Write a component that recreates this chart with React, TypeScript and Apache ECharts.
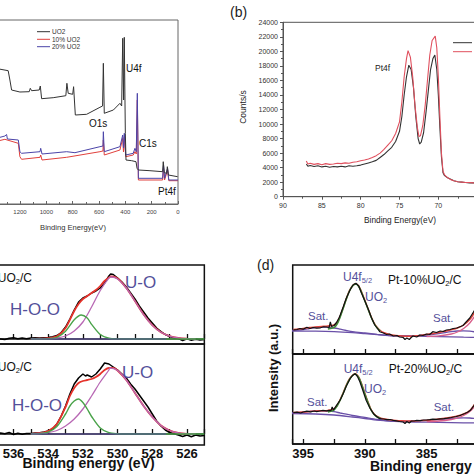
import React, { useEffect, useRef } from "react";
import * as echarts from "echarts";

type P = [number, number][];
const FF = "'Liberation Sans', Arial, Helvetica, sans-serif";

// ---------- (a) XPS survey: [binding energy eV, intensity a.u.] ----------
const surveyUO2: P = [[1400,136],[1290,133.3],[1277,124],[1264,114],[1201,112],[1130,112.3],[1122,115.7],[1112,113.3],[1054,114],[1046,118],[1036,105.3],[948,106.3],[852,108.3],[844,120.7],[834,110.7],[800,109.7],[793,117.3],[780,89],[694,89.7],[593,96.7],[573,98],[567,140.7],[560,90.7],[491,94],[441,100.7],[428,98],[420,165.7],[413,104],[408,166.7],[400,70.7],[395,44],[352,43.3],[319,42.3],[311,35.7],[301,34],[213,33.3],[117,32.3],[112,42.3],[104,31.3],[86,30.7],[81,37.3],[73,29],[3,27.3]];
const survey10: P = [[1400,62],[1315,64.7],[1213,60.7],[1201,47.3],[1188,44.7],[1048,46.7],[1043,49],[1033,44],[846,46.7],[593,52.3],[570,53],[567,64],[560,49],[441,54],[420,65.7],[414,52],[408,67.3],[397,47.3],[340,49],[327,52.3],[317,50],[309,104],[301,24],[117,24],[110,35.7],[102,24],[79,34],[70,23.3],[0,23.3]];
const survey20: P = [[1400,65],[1315,68],[1302,69.5],[1296,65],[1213,64],[1201,52.3],[1188,50.7],[1048,52.3],[1043,55.7],[1033,50],[846,52.3],[783,51.3],[593,57.3],[570,58],[567,72.3],[560,52.3],[441,57.3],[420,69],[414,56],[408,70.7],[397,49],[340,50.7],[327,55.7],[317,52.3],[309,110.7],[301,25.7],[117,25.7],[110,39],[102,25.7],[79,35.7],[70,24],[0,24]];
const surveyLegend = ["UO2", "10% UO2", "20% UO2"];

// ---------- (b) Pt4f: [eV, counts/s] ----------
const pt4fBlack: P = [[87,4500],[86.8,4200],[86.5,4300],[86,4150],[85.5,4250],[85,4100],[84.5,4200],[84,4050],[83.5,4150],[83,4100],[82.5,4200],[82,4100],[81.5,4250],[81,4200],[80.5,4250],[80,4350],[79.5,4500],[79,4650],[78.5,4800],[78,5000],[77.5,5400],[77,5800],[76.5,6300],[76,6800],[75.5,7600],[75,9000],[74.7,11000],[74.4,14000],[74.1,16500],[73.8,18100],[73.5,17500],[73.2,15000],[72.9,11000],[72.6,8000],[72.4,7250],[72.2,7500],[71.9,8800],[71.6,11500],[71.3,14500],[71,17500],[70.7,19000],[70.45,19500],[70.2,17500],[70,14000],[69.8,9500],[69.6,5500],[69.4,3300],[69.2,2900],[68.8,2600],[68.4,2400],[68,2200],[67.5,2050],[67,2000],[66.5,1950],[66,1900],[65.5,1900],[65,1900]];
const pt4fRed: P = [[87,4900],[86.8,4500],[86.5,4600],[86,4450],[85.5,4550],[85,4400],[84.5,4550],[84,4450],[83.5,4500],[83,4600],[82.5,4550],[82,4650],[81.5,4600],[81,4750],[80.5,4800],[80,4950],[79.5,5050],[79,5200],[78.5,5400],[78,5650],[77.5,6000],[77,6500],[76.5,7100],[76,7700],[75.5,8700],[75,10300],[74.7,13000],[74.4,16500],[74.1,19000],[73.9,20100],[73.6,19200],[73.3,16500],[73,12500],[72.7,9500],[72.5,8300],[72.3,8400],[72,9800],[71.7,12500],[71.4,16000],[71.1,19500],[70.8,21500],[70.4,22100],[70.2,20500],[70,16500],[69.8,11000],[69.6,6000],[69.4,3500],[69.2,3000],[68.8,2600],[68.4,2350],[68,2200],[67.5,2050],[67,2000],[66.5,1950],[66,1950],[65.5,1900],[65,1900]];

// ---------- (c) O1s, intensity above baseline ----------
const o1sTopRaw: P = [[537,0.5],[536.75,0],[536.5,-0.5],[536.25,0.8],[536,1.2],[535.75,0.2],[535.5,1],[535.25,0.3],[535,1],[534.75,1.2],[534.5,1],[534.25,1.3],[534,1.5],[533.75,2.2],[533.5,3.5],[533.25,6.5],[533,12],[532.75,20],[532.5,29],[532.25,37],[532,41],[531.75,43],[531.5,46],[531.25,48],[531,51],[530.75,56],[530.5,63],[530.4,65],[530.25,64.5],[530,61],[529.75,57],[529.5,52],[529.25,46],[529,40],[528.75,33],[528.5,27],[528.25,21],[528,16],[527.75,11],[527.5,7.5],[527.25,4.5],[527,2.5],[526.75,1.2],[526.5,0.5],[526.25,-1.5],[526,0.2],[525.75,-1.2],[525.5,-0.3],[525.25,-1],[525,-0.5]];
const o1sTopFit: P = [[535,0.2],[534.5,0.4],[534,0.8],[533.5,2.6],[533,11],[532.5,28],[532.25,35],[532,40],[531.75,43],[531.5,46],[531.25,49],[531,53],[530.75,58],[530.5,61.5],[530.35,62.5],[530,60.5],[529.5,51],[529,38],[528.5,24.5],[528,13.8],[527.5,6.8],[527,3],[526.5,1.1],[526,0.3]];
const o1sTopUO: P = [[535,0],[534,0.3],[533.5,1],[533,3],[532.5,8],[532,17],[531.5,32],[531,48.5],[530.5,60.8],[530.35,62],[530,60],[529.5,51],[529,38],[528.5,24.3],[528,13.6],[527.5,6.7],[527,2.9],[526.5,1.1],[526,0.3],[525.5,0]];
const o1sTopHOO: P = [[535,0],[534.5,0],[534,0.2],[533.5,1.6],[533,7.8],[532.5,19.2],[532.1,24],[531.75,21],[531.5,14.6],[531,4.5],[530.5,0.7],[530,0.1],[529,0],[525,0]];
const o1sTopBase: P = [[535,0],[527.2,0]];

const o1sBotRaw: P = [[537,-0.5],[536.75,1],[536.5,0.2],[536.25,1.5],[536,-0.5],[535.75,0.8],[535.5,-0.3],[535.25,0.6],[535,0.4],[534.75,1],[534.5,1.2],[534.25,2],[534,3],[533.75,5],[533.5,10],[533.25,18],[533,28],[532.75,40],[532.5,50],[532.25,56],[532,60],[531.85,58],[531.75,59],[531.5,57],[531.25,60],[531,65],[530.75,71],[530.5,70],[530.25,67],[530,64],[529.75,60],[529.5,56],[529.25,50],[529,45],[528.75,39],[528.5,33],[528.25,27],[528,20],[527.75,13],[527.5,8],[527.25,4],[527,1.5],[526.75,0.2],[526.5,-1],[526.25,-2.5],[526,-1],[525.75,-2.8],[525.5,-1],[525.25,-2],[525,-1.5]];
const o1sBotFit: P = [[535,0.2],[534.5,0.8],[534,3],[533.5,10],[533,27],[532.75,38],[532.5,46],[532.25,51],[532,53],[531.75,54],[531.5,55],[531.25,57],[531,60],[530.75,64],[530.5,66],[530.25,66],[530,63.5],[529.5,54],[529,41],[528.5,28],[528,17],[527.5,8.5],[527,3.5],[526.5,1],[526,0.2]];
const o1sBotUO: P = [[535,0],[534.5,0.5],[534,1.5],[533.5,3.5],[533,8],[532.5,15],[532,25],[531.5,38],[531,52],[530.5,64],[530.45,66],[530,63.5],[529.5,54],[529,41],[528.5,28],[528,17],[527.5,8.5],[527,3.5],[526.5,1],[526,0.2],[525.5,0]];
const o1sBotHOO: P = [[535,0],[534.5,0.4],[534,1.8],[533.5,7.5],[533,20],[532.75,28],[532.5,33],[532.25,35],[532,31.5],[531.75,25],[531.5,17.5],[531,6],[530.5,1.3],[530,0.2],[529.5,0],[525,0]];
const o1sBotBase: P = [[535,0],[527.2,0]];

// ---------- (d) U4f ----------
const u4fTopRaw: P = [[395.8,24],[395.5,24.5],[395.27,25.5],[395,24.8],[394.7,26.7],[394.45,25.5],[394.2,26.5],[393.9,25.8],[393.6,26.2],[393.35,27.2],[393.1,27],[392.9,26.5],[392.8,32],[392.7,27.5],[392.5,28.5],[392.3,31.5],[392.1,36],[392,39],[391.76,47],[391.5,56],[391.2,64],[390.97,69],[390.73,70.7],[390.5,68],[390.27,60.7],[390,53],[389.7,44],[389.46,36],[389.2,29],[388.95,25],[388.8,22.3],[388.5,21],[388.25,19.5],[388,20],[387.7,18],[387.4,18.5],[387.2,17],[386.9,16.5],[386.75,14.5],[386.6,16],[386.4,14.5],[386.25,16.5],[386.1,18],[385.8,17],[385.55,19],[385.3,18.5],[385,20],[384.75,19.5],[384.5,22.3],[384.2,21.5],[383.9,23],[383.65,22.5],[383.4,24],[383.1,24.5],[382.85,25.5],[382.55,26],[382.3,27.3],[382.05,28.5],[381.8,32],[381.5,36],[381.2,42],[380.9,48]];
const u4fTopFit: P = [[395.8,24.5],[395,25.5],[394.5,26.5],[394,27],[393.5,27.5],[393,28],[392.5,29],[392.25,31.5],[392,38],[391.75,46.5],[391.5,55.5],[391.25,63.5],[391,68.3],[390.75,70.3],[390.5,68],[390.25,61.5],[390,53.5],[389.75,45.5],[389.5,37.5],[389.25,31],[389,26.5],[388.75,23.5],[388.5,21.5],[388,19.5],[387.5,18.5],[387,18],[386.5,17.8],[386,18],[385.5,18.6],[385,19.5],[384.5,20.5],[384,21.5],[383.5,22.8],[383,24.2],[382.5,26],[382,29],[381.5,34.5],[381.2,40],[380.9,48],[380.6,58]];
const u4fTopUO2: P = [[393,25],[392.5,26.5],[392.25,30],[392,37],[391.75,46],[391.5,55],[391.25,63],[391,68],[390.75,70],[390.5,67.5],[390.25,61],[390,53],[389.75,45],[389.5,37],[389.25,30.5],[389,26],[388.75,23]];
const u4fTopBg: P = [[396,23],[394,22.8],[392.5,22.3],[391,21.3],[390,20.3],[389,19.3],[388,18.5],[386,17.8],[384,17.3],[382,16.8],[380.5,16.5]];
const u4fTopSat1: P = [[396,23.5],[395,24.5],[394.5,25.5],[394,26.5],[393.5,27],[393,26.8],[392.5,26],[392,24.8],[391.5,23.5],[391,22.3],[390,21],[389,19.7],[388,18.5]];
const u4fTopSat2: P = [[388,18.3],[387,18],[386,18.2],[385,19],[384,20.5],[383,22.3],[382.5,23],[382,23.2],[381.5,22.8],[381,22],[380.5,21]];
const u4fTopU72: P = [[385,17.5],[384,18.2],[383,20],[382.5,22],[382,25.5],[381.5,31],[381,40],[380.5,54],[380.2,62]];

const u4fBotRaw: P = [[395.8,31.3],[395.5,31.8],[395.2,31],[395,32],[394.7,32.8],[394.4,32.2],[394.1,33],[393.9,32.4],[393.65,33],[393.4,33.6],[393.1,33.2],[392.9,33.7],[392.75,33.4],[392.65,37],[392.55,34],[392.3,38.7],[392,44],[391.76,50.3],[391.5,58],[391.2,65.3],[391,68.5],[390.8,70.3],[390.6,67.5],[390.4,62],[390.15,53],[389.9,43.7],[389.6,36],[389.3,30.3],[389.05,27.5],[388.8,25.3],[388.5,25],[388.2,24.3],[387.95,24.5],[387.7,23.7],[387.45,23.2],[387.2,22.5],[386.9,22],[386.75,20.5],[386.6,22.5],[386.4,21],[386.25,22.8],[386,23],[385.8,23.7],[385.5,23.3],[385.25,24],[385,24],[384.75,24.3],[384.5,24.8],[384.2,24.6],[383.9,25.2],[383.6,25.3],[383.3,25.8],[383,26.5],[382.6,27.5],[382.25,28.7],[381.9,30.5],[381.65,32],[381.45,33.7],[381.15,38.7],[380.9,44]];
const u4fBotFit: P = [[395.8,31.5],[395,32],[394.5,32.5],[394,33],[393.5,33.3],[393,33.6],[392.5,35],[392.25,38.5],[392,44.5],[391.75,51.5],[391.5,59],[391.25,65],[391,68.8],[390.8,70.2],[390.5,66.8],[390.25,59.5],[390,50.5],[389.75,42],[389.5,34.5],[389.25,30],[389,27.5],[388.75,26],[388.5,25.2],[388,24.3],[387.5,23.6],[387,23.2],[386.5,23],[386,23.1],[385.5,23.4],[385,23.8],[384.5,24.3],[384,25],[383.5,25.8],[383,26.8],[382.5,28],[382,30],[381.5,33.5],[381.2,38],[380.9,45],[380.6,54]];
const u4fBotUO2: P = [[393,32],[392.5,34],[392.25,38],[392,44],[391.75,51],[391.5,58.5],[391.25,64.5],[391,68.5],[390.8,70],[390.5,66.5],[390.25,59],[390,50],[389.75,41.5],[389.5,34],[389.25,29.5],[389,27],[388.75,26]];
const u4fBotBg: P = [[396,30.5],[394,30],[392.5,29],[391,27],[390,25.5],[389,23.8],[388,22.8],[386,22],[384,21.6],[382,21.2],[380.5,21]];
const u4fBotSat1: P = [[396,31],[395,31.8],[394.5,32.5],[394,33],[393.5,33.2],[393,33],[392.5,32.3],[392,31],[391.5,29.8],[391,28.5],[390,26.5],[389,24.5],[388,23.2]];
const u4fBotSat2: P = [[388,22.8],[387,22.7],[386,23],[385,23.6],[384,24.5],[383,25.5],[382.5,26],[382,26.2],[381.5,26],[381,25.3],[380.5,24.5]];
const u4fBotU72: P = [[385,22.5],[384,23],[383,24.5],[382.5,26],[382,28.5],[381.5,32.5],[381,39.5],[380.6,50],[380.3,58]];

const SLATE = "#54509a";

let ctx: CanvasRenderingContext2D | null = null;
function tw(t: string, size: number, weight = "normal") {
  if (!ctx) ctx = document.createElement("canvas").getContext("2d");
  if (!ctx) return t.length * size * 0.55;
  ctx.font = `${weight} ${size}px ${FF}`;
  return ctx.measureText(t).width;
}

function txt(text: string, x: number, y: number, size: number, fill: string, opts: any = {}) {
  const align = opts.align || "left";
  return {
    type: "text",
    x,
    y,
    rotation: opts.rotation || 0,
    z: 100,
    style: {
      text,
      fontSize: size,
      fontFamily: FF,
      fontWeight: opts.weight || "normal",
      fill,
      textAlign: align,
      align,
      textVerticalAlign: "middle",
      verticalAlign: "middle",
    },
  };
}

function subText(parts: [string, boolean][], x: number, y: number, size: number, fill: string, align: "left" | "right" = "left") {
  const subSize = size * 0.62;
  const widths = parts.map(([t, s]) => tw(t, s ? subSize : size));
  const total = widths.reduce((a, b) => a + b, 0);
  let cx = align === "left" ? x : x - total;
  return parts.map(([t, s], i) => {
    const el = txt(t, cx, s ? y + size * 0.32 : y, s ? subSize : size, fill);
    cx += widths[i];
    return el;
  });
}

function line(data: P, idx: number, color: string, width: number, smooth: boolean | number = false, z = 2) {
  return {
    type: "line",
    data,
    xAxisIndex: idx,
    yAxisIndex: idx,
    symbol: "none",
    showSymbol: false,
    smooth,
    z,
    silent: true,
    lineStyle: { color, width },
    itemStyle: { color },
  };
}

function buildOption() {
  const black = "#111";
  const boxGrid = (left: number, top: number, width: number, height: number, color: string, bw: number) => ({
    left, top, width, height, show: true, borderColor: color, borderWidth: bw, backgroundColor: "transparent",
    containLabel: false, outerBoundsMode: "none",
  });
  const cdX = (idx: number, min: number, max: number, interval: number, labels: boolean, every: number) => ({
    gridIndex: idx,
    type: "value",
    inverse: true,
    min,
    max,
    interval,
    axisLine: { show: true, lineStyle: { color: black, width: 1.5 } },
    axisTick: { show: true, inside: true, length: 5, lineStyle: { color: black, width: 1.3 } },
    axisLabel: {
      show: labels,
      fontSize: 13,
      fontWeight: "bold",
      color: "#111",
      fontFamily: FF,
      margin: idx === 3 ? 2 : 3,
      hideOverlap: false,
      formatter: (v: number) => (Math.abs(v / every - Math.round(v / every)) < 1e-6 ? String(v) : ""),
    },
    splitLine: { show: false },
  });
  const hidY = (idx: number, min: number, max: number) => ({ gridIndex: idx, type: "value", min, max, show: false, splitLine: { show: false } });

  const graphic: any[] = [];
  // (a) legend
  const legColors = ["#333", "#e0403c", "#4b44a8"];
  const legY = [31.7, 39.3, 46.7];
  surveyLegend.forEach((name, i) => {
    graphic.push({ type: "line", shape: { x1: 37, y1: legY[i], x2: 50, y2: legY[i] }, style: { stroke: legColors[i], lineWidth: 1 }, z: 100 });
    graphic.push(txt(name, 52, legY[i], 6.5, "#333"));
  });
  graphic.push(txt("U4f", 126, 68.3, 10, "#111"));
  graphic.push(txt("O1s", 89, 123.3, 10, "#111"));
  graphic.push(txt("C1s", 139, 143.3, 10, "#111"));
  graphic.push(txt("Pt4f", 158, 191.7, 10, "#111"));
  graphic.push(txt("Binding Energy(eV)", 73, 227.7, 7.6, "#333", { align: "center" }));

  // (b)
  graphic.push(txt("(b)", 230, 12, 14, "#222"));
  graphic.push(txt("Pt4f", 375, 68.3, 8.5, "#222"));
  graphic.push(txt("Counts/s", 243, 107, 8.5, "#222", { align: "center", rotation: Math.PI / 2 }));
  graphic.push(txt("Binding Energy(eV)", 400, 220, 8.3, "#222", { align: "center" }));
  graphic.push({ type: "line", shape: { x1: 453, y1: 42.7, x2: 472, y2: 42.7 }, style: { stroke: "#333", lineWidth: 1 }, z: 100 });
  graphic.push({ type: "line", shape: { x1: 453, y1: 51.7, x2: 472, y2: 51.7 }, style: { stroke: "#e0505e", lineWidth: 1 }, z: 100 });

  // (c)
  graphic.push(...subText([["Pt-10%UO", false], ["2", true], ["/C", false]], 32, 278, 12, "#111", "right"));
  graphic.push(...subText([["Pt-20%UO", false], ["2", true], ["/C", false]], 32, 367, 12, "#111", "right"));
  graphic.push(txt("H-O-O", 10, 309, 17, SLATE));
  graphic.push(txt("U-O", 125, 282, 17, SLATE));
  graphic.push(txt("H-O-O", 12, 405, 17, SLATE));
  graphic.push(txt("U-O", 122, 372, 17, SLATE));
  graphic.push(txt("Binding energy (eV)", 88.5, 463, 14, "#111", { align: "center", weight: "bold" }));

  // (d)
  graphic.push(txt("(d)", 257, 265, 14, "#222"));
  graphic.push(...subText([["U4f", false], ["5/2", true]], 343, 277, 12, SLATE));
  graphic.push(...subText([["UO", false], ["2", true]], 365, 297, 12, SLATE));
  graphic.push(...subText([["Pt-10%UO", false], ["2", true], ["/C", false]], 388, 280, 12, "#111"));
  graphic.push(txt("Sat.", 308, 316, 11.5, SLATE));
  graphic.push(txt("Sat.", 433, 318, 11.5, SLATE));
  graphic.push(...subText([["U4f", false], ["5/2", true]], 343.7, 368.7, 12, SLATE));
  graphic.push(...subText([["UO", false], ["2", true]], 364, 389, 12, SLATE));
  graphic.push(...subText([["Pt-20%UO", false], ["2", true], ["/C", false]], 388.7, 368.7, 12, "#111"));
  graphic.push(txt("Sat.", 307, 402, 11.5, SLATE));
  graphic.push(txt("Sat.", 433.7, 407, 11.5, SLATE));
  graphic.push(txt("Intensity (a.u.)", 273, 368, 13, "#111", { align: "center", weight: "bold", rotation: Math.PI / 2 }));
  graphic.push(txt("Binding energy (eV)", 370, 465.7, 14, "#111", { weight: "bold" }));

  const cRed = "#e5322a", cGreen = "#4aa34a", cMag = "#b868b4", cPur = "#5b4fa3";
  const dRed = "#e0443c", dGreen = "#3f8a3a", dPur = "#6a50a8", dMag = "#d9608c";

  return {
    animation: false,
    backgroundColor: "#fff",
    grid: [
      boxGrid(-6.3, 20, 184.3, 184, "#666", 1),
      boxGrid(283, 22.3, 233, 174.4, "#555", 1),
      boxGrid(-3.85, 265, 208.2, 79, black, 1.5),
      boxGrid(-3.85, 344, 208.2, 101, black, 1.5),
      boxGrid(292.7, 265, 257.3, 89, black, 1.5),
      boxGrid(292.7, 354, 257.3, 90, black, 1.5),
    ],
    xAxis: [
      {
        gridIndex: 0, type: "value", inverse: true, min: 0, max: 1400, interval: 200,
        axisLine: { lineStyle: { color: "#666", width: 1 } },
        axisTick: { inside: true, length: 3, lineStyle: { color: "#666" } },
        minorTick: { show: true, splitNumber: 2, length: 2, lineStyle: { color: "#666" } },
        axisLabel: { fontSize: 6, color: "#444", margin: 5, fontFamily: FF, formatter: (v: number) => (v > 1300 ? "" : String(v)) },
        splitLine: { show: false },
      },
      {
        gridIndex: 1, type: "value", inverse: true, min: 60, max: 90, interval: 5,
        axisLine: { lineStyle: { color: "#555", width: 1 } },
        axisTick: { inside: false, length: 3, lineStyle: { color: "#555" } },
        minorTick: { show: true, splitNumber: 2, length: 2, lineStyle: { color: "#555" } },
        axisLabel: { fontSize: 7, color: "#333", margin: 5, fontFamily: FF, formatter: (v: number) => (v >= 70 ? String(v) : "") },
        splitLine: { show: false },
      },
      cdX(2, 525, 537, 1, false, 2),
      cdX(3, 525, 537, 1, true, 2),
      cdX(4, 375, 395.85, 2.5, false, 5),
      cdX(5, 375, 395.85, 2.5, true, 5),
    ],
    yAxis: [
      hidY(0, 0, 184),
      {
        gridIndex: 1, type: "value", min: 0, max: 24000, interval: 2000,
        axisLine: { show: true, lineStyle: { color: "#555", width: 1 } },
        axisTick: { show: true, inside: false, length: 3, lineStyle: { color: "#555" } },
        minorTick: { show: true, splitNumber: 2, length: 2, lineStyle: { color: "#555" } },
        axisLabel: { fontSize: 7, color: "#333", margin: 5, fontFamily: FF, formatter: (v: number) => String(v) },
        splitLine: { show: false },
      },
      hidY(2, -5, 74),
      hidY(3, -11, 90),
      hidY(4, 0, 89),
      hidY(5, 0, 90),
    ],
    series: [
      line(survey10, 0, "#e0403c", 1),
      line(survey20, 0, "#4b44a8", 1),
      line(surveyUO2, 0, "#333", 1),
      line(pt4fBlack, 1, "#333", 1.1),
      line(pt4fRed, 1, "#e0505e", 1.1),
      line(o1sTopRaw, 2, "#000", 1.5),
      line(o1sTopFit, 2, cRed, 1.8, 0.3),
      line(o1sTopUO, 2, cMag, 1.3, 0.3),
      line(o1sTopHOO, 2, cGreen, 1.4, 0.3),
      line(o1sTopBase, 2, cPur, 1.2),
      line(o1sBotRaw, 3, "#000", 1.5),
      line(o1sBotFit, 3, cRed, 1.8, 0.3),
      line(o1sBotUO, 3, cMag, 1.3, 0.3),
      line(o1sBotHOO, 3, cGreen, 1.4, 0.3),
      line(o1sBotBase, 3, cPur, 1.2),
      line(u4fTopBg, 4, dPur, 1.3, 0.3),
      line(u4fTopSat1, 4, dPur, 1.3, 0.3),
      line(u4fTopSat2, 4, dPur, 1.3, 0.3),
      line(u4fTopU72, 4, dMag, 1.3, 0.3),
      line(u4fTopFit, 4, dRed, 1.5, 0.3),
      line(u4fTopUO2, 4, dGreen, 1.5, 0.3),
      line(u4fTopRaw, 4, "#111", 1.2),
      line(u4fBotBg, 5, dPur, 1.3, 0.3),
      line(u4fBotSat1, 5, dPur, 1.3, 0.3),
      line(u4fBotSat2, 5, dPur, 1.3, 0.3),
      line(u4fBotU72, 5, dMag, 1.3, 0.3),
      line(u4fBotFit, 5, dRed, 1.5, 0.3),
      line(u4fBotUO2, 5, dGreen, 1.5, 0.3),
      line(u4fBotRaw, 5, "#111", 1.2),
    ],
    graphic: { elements: graphic },
  };
}

export default function App() {
  const ref = useRef<HTMLDivElement>(null);
  useEffect(() => {
    if (!ref.current) return;
    const chart = echarts.init(ref.current, null, { renderer: "svg" });
    chart.setOption(buildOption() as any);
    return () => chart.dispose();
  }, []);
  return (
    <div
      ref={ref}
      style={{ position: "fixed", left: 0, top: 0, width: 474, height: 474, background: "#fff" }}
    />
  );
}
